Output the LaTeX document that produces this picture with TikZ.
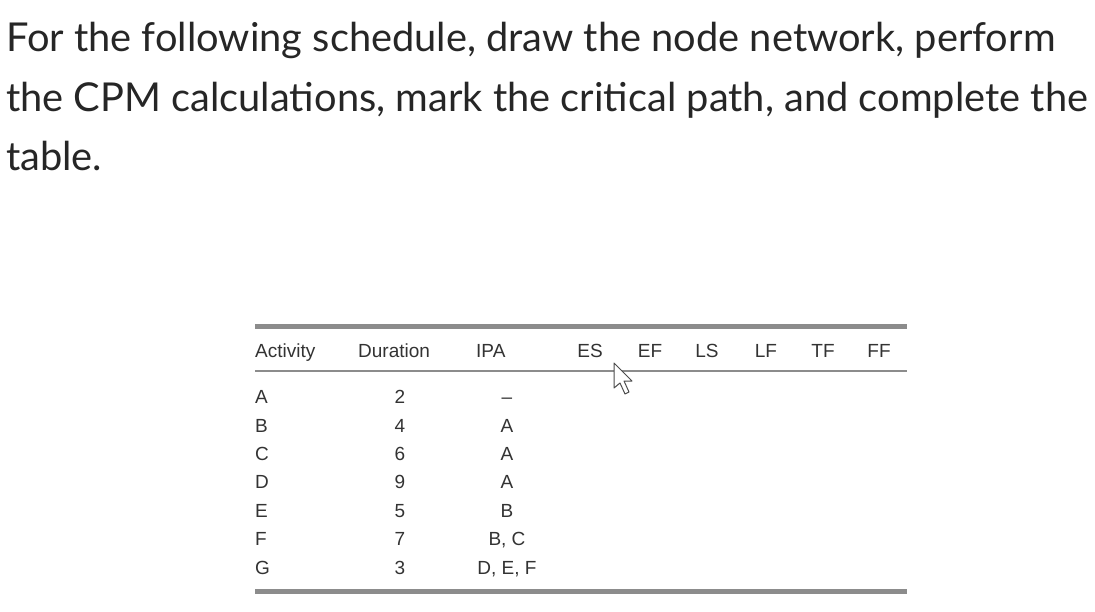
\documentclass[tikz,border=0pt]{standalone}
\usepackage{fontspec}
\setmainfont{Lato}
\newfontfamily\tabfont{Liberation Sans}
\begin{document}
\begin{tikzpicture}[x=1pt,y=-1pt,
  big/.style={anchor=base west,font=\fontsize{39.8}{44}\selectfont,text=black!85,inner sep=0},
  cell/.style={anchor=base,font=\tabfont\fontsize{19}{22}\selectfont,text=black!80,inner sep=0},
  lcell/.style={cell,anchor=base west},
  rule/.style={draw=black!45,line width=#1}]
\useasboundingbox[fill=white] (0,0) rectangle (1095,612);
\node[big] (l1) at (6,52) {For the following schedule, draw the node network, perform};
\node[big] (l2) at (6,112) {the CPM calculations, mark the critical path, and complete the};
\node[big] (l3) at (6,171) {table.};
\draw[rule=5pt] (255,327) -- (907,327);
\draw[rule=2.5pt] (255,371) -- (907,371);
\draw[rule=5pt] (255,591) -- (907,591);
\node[lcell] (hA) at (255,357) {Activity};
\node[lcell] (hD) at (358,357) {Duration};
\node[lcell] (hI) at (476,357) {IPA};
\foreach \t/\x in {ES/590,EF/650,LS/707,LF/766,TF/823,FF/879}
  \node[cell] (h\t) at (\x,357) {\t};
\foreach \a/\d/\p/\y in {A/2/–/403,B/4/A/432,C/6/A/460,D/9/A/488,E/5/B/517,F/7/{B, C}/545,G/3/{D, E, F}/574}{
  \node[lcell] (a\a) at (255,\y) {\a};
  \node[cell] (d\a) at (400,\y) {\d};
  \node[cell] (p\a) at (507,\y) {\p};
}
% mouse cursor
\draw[black!70,line width=1pt,fill=white,line join=round]
  (614,363) -- (614,388) -- (620,383) -- (625,394) -- (629,392) -- (624,381) -- (632,381) -- cycle;
\end{tikzpicture}
\end{document}
